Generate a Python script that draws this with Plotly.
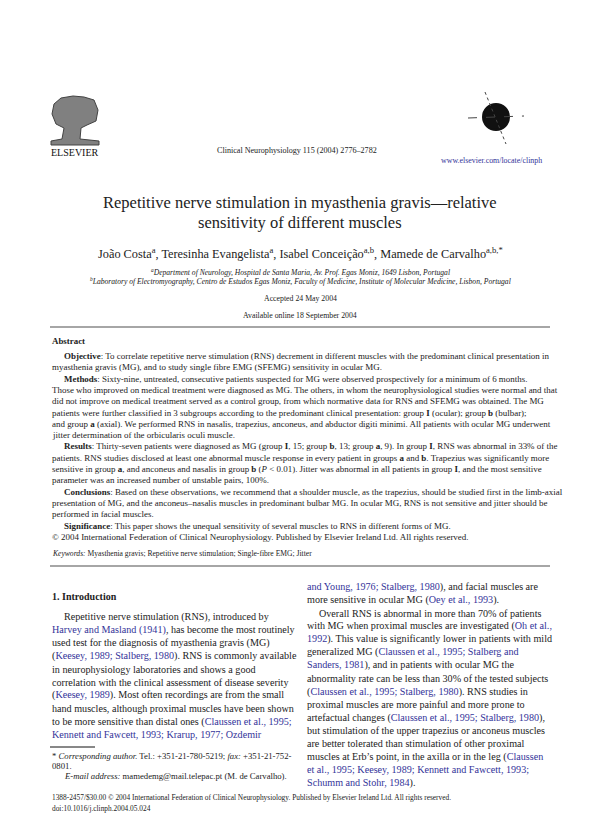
import plotly.graph_objects as go

# text content of the page
journal_line = "Clinical Neurophysiology 115 (2004) 2776\u20132782"
journal_url = "www.elsevier.com/locate/clinph"
title_lines = ["Repetitive nerve stimulation in myasthenia gravis\u2014relative",
               "sensitivity of different muscles"]
authors = ("Jo\u00e3o Costa<sup>a</sup>, Teresinha Evangelista<sup>a</sup>, "
           "Isabel Concei\u00e7\u00e3o<sup>a,b</sup>, Mamede de Carvalho<sup>a,b,*</sup>")
affiliations = ["<sup>a</sup>Department of Neurology, Hospital de Santa Maria, Av. Prof. Egas Moniz, 1649 Lisbon, Portugal",
                "<sup>b</sup>Laboratory of Electromyography, Centro de Estudos Egas Moniz, Faculty of Medicine, "
                "Institute of Molecular Medicine, Lisbon, Portugal"]
dates = ["Accepted 24 May 2004", "Available online 18 September 2004"]

B = "<span style='color:#333399'>"
E = "</span>"

abstract_lines = [
    "<b>Objective</b>: To correlate repetitive nerve stimulation (RNS) decrement in different muscles with the predominant clinical presentation in",
    "myasthenia gravis (MG), and to study single fibre EMG (SFEMG) sensitivity in ocular MG.",
    "<b>Methods</b>: Sixty-nine, untreated, consecutive patients suspected for MG were observed prospectively for a minimum of 6 months.",
    "Those who improved on medical treatment were diagnosed as MG. The others, in whom the neurophysiological studies were normal and that",
    "did not improve on medical treatment served as a control group, from which normative data for RNS and SFEMG was obtained. The MG",
    "patients were further classified in 3 subgroups according to the predominant clinical presentation: group <b>I</b> (ocular); group <b>b</b> (bulbar);",
    "and group <b>a</b> (axial). We performed RNS in nasalis, trapezius, anconeus, and abductor digiti minimi. All patients with ocular MG underwent",
    "jitter determination of the orbicularis oculi muscle.",
    "<b>Results</b>: Thirty-seven patients were diagnosed as MG (group <b>I</b>, 15; group <b>b</b>, 13; group <b>a</b>, 9). In group <b>I</b>, RNS was abnormal in 33% of the",
    "patients. RNS studies disclosed at least one abnormal muscle response in every patient in groups <b>a</b> and <b>b</b>. Trapezius was significantly more",
    "sensitive in group <b>a</b>, and anconeus and nasalis in group <b>b</b> (<i>P</i> &lt; 0.01). Jitter was abnormal in all patients in group <b>I</b>, and the most sensitive",
    "parameter was an increased number of unstable pairs, 100%.",
    "<b>Conclusions</b>: Based on these observations, we recommend that a shoulder muscle, as the trapezius, should be studied first in the limb-axial",
    "presentation of MG, and the anconeus\u2013nasalis muscles in predominant bulbar MG. In ocular MG, RNS is not sensitive and jitter should be",
    "performed in facial muscles.",
    "<b>Significance</b>: This paper shows the unequal sensitivity of several muscles to RNS in different forms of MG.",
    "\u00a9 2004 International Federation of Clinical Neurophysiology. Published by Elsevier Ireland Ltd. All rights reserved.",
]
abstract_indent = [0, 2, 8, 12, 15]
keywords = "<i>Keywords:</i> Myasthenia gravis; Repetitive nerve stimulation; Single-fibre EMG; Jitter"

left_lines = [
    "Repetitive nerve stimulation (RNS), introduced by",
    B + "Harvey and Masland (1941)" + E + ", has become the most routinely",
    "used test for the diagnosis of myasthenia gravis (MG)",
    "(" + B + "Keesey, 1989; Stalberg, 1980" + E + "). RNS is commonly available",
    "in neurophysiology laboratories and shows a good",
    "correlation with the clinical assessment of disease severity",
    "(" + B + "Keesey, 1989" + E + "). Most often recordings are from the small",
    "hand muscles, although proximal muscles have been shown",
    "to be more sensitive than distal ones (" + B + "Claussen et al., 1995;" + E,
    B + "Kennett and Fawcett, 1993; Krarup, 1977; Ozdemir" + E,
]
right_lines = [
    B + "and Young, 1976; Stalberg, 1980" + E + "), and facial muscles are",
    "more sensitive in ocular MG (" + B + "Oey et al., 1993" + E + ").",
    "Overall RNS is abnormal in more than 70% of patients",
    "with MG when proximal muscles are investigated (" + B + "Oh et al.," + E,
    B + "1992" + E + "). This value is significantly lower in patients with mild",
    "generalized MG (" + B + "Claussen et al., 1995; Stalberg and" + E,
    B + "Sanders, 1981" + E + "), and in patients with ocular MG the",
    "abnormality rate can be less than 30% of the tested subjects",
    "(" + B + "Claussen et al., 1995; Stalberg, 1980" + E + "). RNS studies in",
    "proximal muscles are more painful and more prone to",
    "artefactual changes (" + B + "Claussen et al., 1995; Stalberg, 1980" + E + "),",
    "but stimulation of the upper trapezius or anconeus muscles",
    "are better tolerated than stimulation of other proximal",
    "muscles at Erb\u2019s point, in the axilla or in the leg (" + B + "Claussen" + E,
    B + "et al., 1995; Keesey, 1989; Kennett and Fawcett, 1993;" + E,
    B + "Schumm and Stohr, 1984" + E + ").",
]
right_indent = [2]
footnotes = ["* <i>Corresponding author.</i> Tel.: +351-21-780-5219; <i>fax:</i> +351-21-752-",
             "0801.",
             "<i>E-mail address:</i> mamedemg@mail.telepac.pt (M. de Carvalho)."]
bottom_lines = ["1388-2457/$30.00 \u00a9 2004 International Federation of Clinical Neurophysiology. "
                "Published by Elsevier Ireland Ltd. All rights reserved.",
                "doi:10.1016/j.clinph.2004.05.024"]

SERIF = "Liberation Serif, Times New Roman, serif"
INK = "#222222"
BODY = 10.15
OFF = 8  # the page has an 8px body margin, shift the axes to cancel it

fig = go.Figure()
fig.add_trace(go.Scatter(x=[OFF, 600 + OFF], y=[OFF, 825 + OFF], mode="markers",
                         marker=dict(opacity=0), hoverinfo="skip", showlegend=False))


def txt(x, y, s, size, anchor="left", color=INK):
    fig.add_annotation(x=x, y=y, xref="x", yref="y", text=s, showarrow=False,
                       xanchor=anchor, yanchor="middle",
                       font=dict(family=SERIF, size=size, color=color))


def hline(x0, x1, y, color, width):
    fig.add_shape(type="line", xref="x", yref="y", x0=x0, x1=x1, y0=y, y1=y,
                  line=dict(color=color, width=width))


# header
txt(297, 150, journal_line, 8.1, "center")
txt(491, 160, journal_url, 7.9, "center", "#333399")
txt(75, 152, "ELSEVIER", 10, "center", "#111111")
# elsevier tree, rough silhouette
fig.add_shape(type="path", xref="x", yref="y",
              path="M 51 145 L 51 141 L 62 139 L 64 128 L 56 124 L 52 114 L 54 104 L 61 98 "
                   "L 73 96 L 84 97 L 94 100 L 98 110 L 96 121 L 87 125 L 81 128 L 80 139 "
                   "L 99 141 L 99 145 Z",
              fillcolor="#6a6a6a", line=dict(color="#222222", width=1), opacity=0.85)
# journal emblem
fig.add_shape(type="circle", xref="x", yref="y", x0=483, x1=509, y0=104, y1=130,
              fillcolor="#111111", line=dict(color="#111111"))
fig.add_shape(type="line", xref="x", yref="y", x0=485, y0=92, x1=506, y1=144,
              line=dict(color="#444444", width=1, dash="dot"))
fig.add_shape(type="line", xref="x", yref="y", x0=468, y0=118, x1=524, y1=116,
              line=dict(color="#444444", width=1, dash="dash"))

# title block
for i, s in enumerate(title_lines):
    txt(300, 202 + 20 * i, s, 16.5, "center")
txt(300, 253, authors, 12.3, "center")
for i, s in enumerate(affiliations):
    txt(300, 272 + 9 * i, "<i>" + s + "</i>", 7.6, "center")
for i, s in enumerate(dates):
    txt(300, 298 + 17 * i, s, 7.8, "center")

hline(50, 550, 327, "#888888", 1.5)

# abstract
txt(50, 341, "<b>Abstract</b>", 8.9)
for i, s in enumerate(abstract_lines):
    x = 62 if i in abstract_indent else 50
    txt(x, 356 + 11.3 * i, s, 8.95)
txt(50, 553, keywords, 7.6)
hline(50, 550, 566, "#888888", 1.5)

# left column
txt(50, 596, "<b>1. Introduction</b>", 10)
for i, s in enumerate(left_lines):
    x = 62 if i == 0 else 50
    txt(x, 617 + 13.07 * i, s, BODY)
hline(50, 95, 747, "#111111", 1)
for i, s in enumerate(footnotes):
    x = 62 if i == 2 else 50
    txt(x, 756 + 10 * i, s, 8.7)

# right column
for i, s in enumerate(right_lines):
    x = 317 if i in right_indent else 305
    txt(x, 587 + 13.07 * i, s, BODY)

for i, s in enumerate(bottom_lines):
    txt(50, 797 + 11 * i, s, 7.37)

fig.update_layout(width=600, height=825, margin=dict(l=0, r=0, t=0, b=0),
                  paper_bgcolor="white", plot_bgcolor="white", showlegend=False,
                  xaxis=dict(range=[OFF, 600 + OFF], visible=False, fixedrange=True),
                  yaxis=dict(range=[825 + OFF, OFF], visible=False, fixedrange=True))
fig.write_html("out.html")
